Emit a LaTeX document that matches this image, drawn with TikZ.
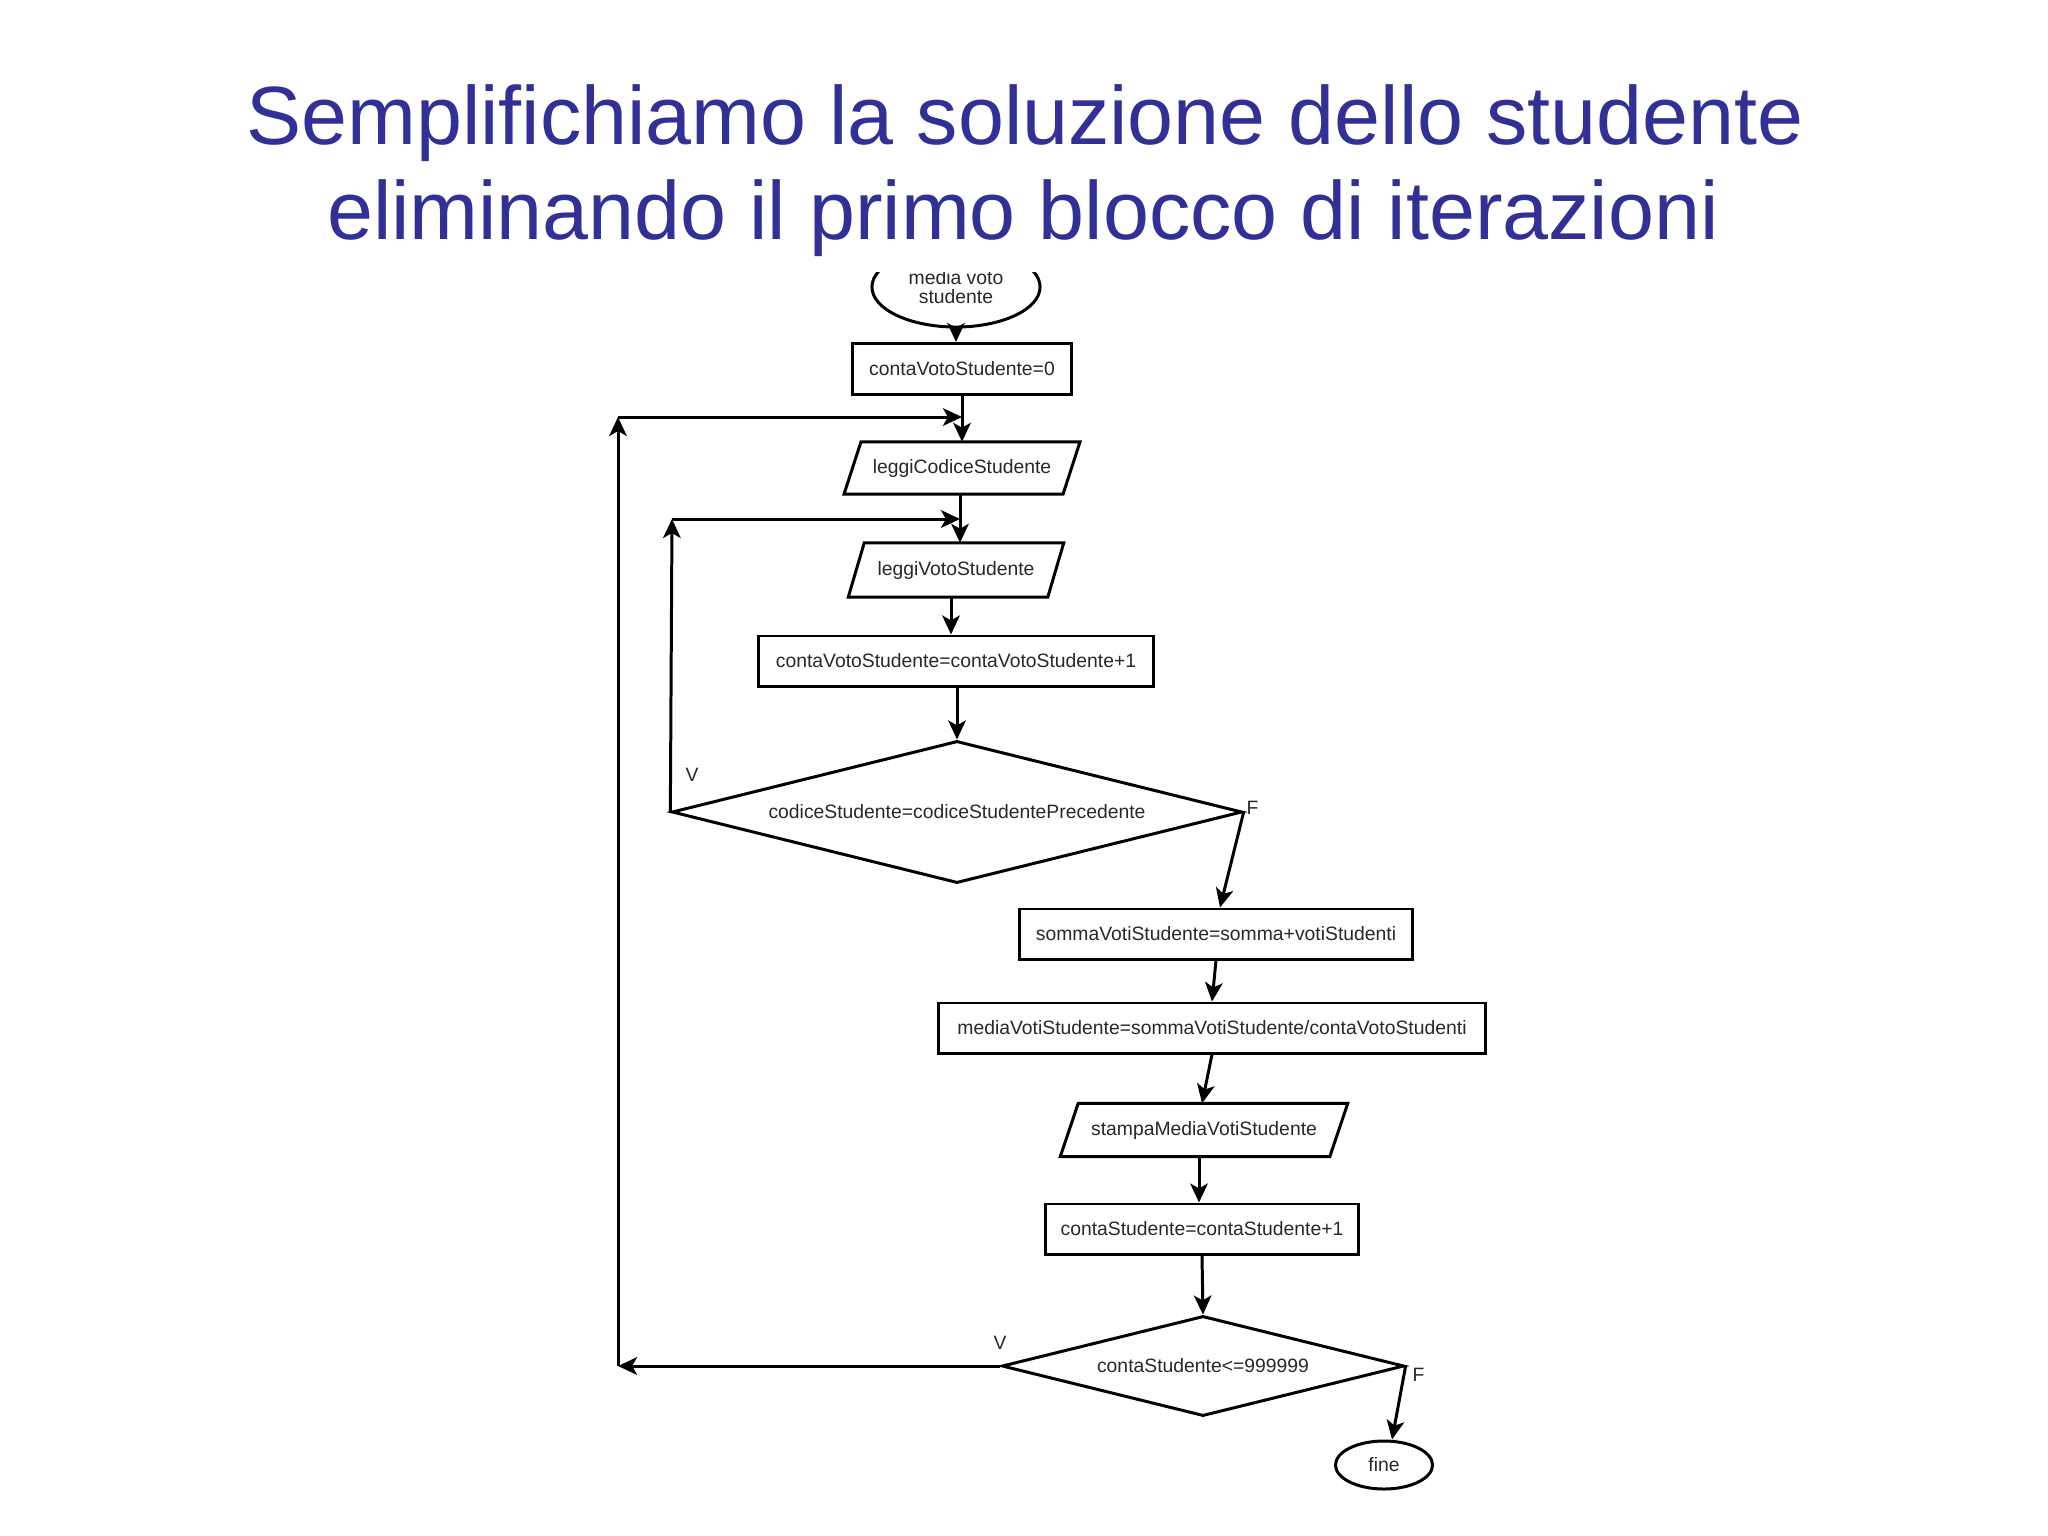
\documentclass[tikz,border=0pt]{standalone}
\usepackage{fontspec}
\setmainfont{Liberation Sans}
\newfontfamily\titlefont{Liberation Sans}
\newfontfamily\diagfont{Liberation Sans}
\usetikzlibrary{shapes.geometric,arrows.meta,calc}
\definecolor{titleblue}{RGB}{48,48,150}
\definecolor{inkgray}{RGB}{40,40,40}
\begin{document}
\begin{tikzpicture}[x=0.01cm,y=-0.01cm,
  every node/.style={font=\diagfont\fontsize{5.5}{6}\selectfont, text=inkgray},
  conn/.style={line width=0.85pt, -{Stealth[length=5.4pt,width=5pt,inset=1.4pt]}},
  procbox/.style={draw, line width=0.85pt, rectangle, inner sep=0pt, minimum height=0.5cm},
  iobox/.style={rectangle, inner sep=0pt},
  decision/.style={draw, line width=0.85pt, diamond, aspect=4, inner sep=0pt},
  terminal/.style={draw, line width=0.85pt, ellipse, inner sep=0pt},
  lbl/.style={font=\diagfont\fontsize{5.5}{6}\selectfont, inner sep=0pt}
]
\useasboundingbox[fill=white] (0,0) rectangle (2048,1536);

% title
\node[font=\titlefont\fontsize{23.5}{28}\selectfont, text=titleblue, anchor=base] (t1) at (1025,144) {Semplifichiamo la soluzione dello studente};
\node[font=\titlefont\fontsize{23.5}{28}\selectfont, text=titleblue, anchor=base] (t2) at (1023,239) {eliminando il primo blocco di iterazioni};

% start (clipped at top)
\begin{scope}
\clip (0,272) rectangle (2048,1536);
\node[terminal, minimum width=1.68cm, minimum height=0.80cm, align=center,
      font=\diagfont\fontsize{5.5}{5.6}\selectfont] (start) at (956,287) {media voto\\studente};
\end{scope}

\node[procbox, minimum width=2.18cm, minimum height=0.51cm] (b1) at (962,369) {contaVotoStudente=0};
\node[iobox, minimum width=2.175cm, minimum height=0.51cm] (lc) at (962,468) {leggiCodiceStudente};
\draw[line width=0.85pt] ($(lc.north west)+(8.5,0)$) -- ($(lc.north east)+(8.5,0)$) -- ($(lc.south east)+(-8.5,0)$) -- ($(lc.south west)+(-8.5,0)$) -- cycle;
\node[iobox, minimum width=1.98cm, minimum height=0.53cm] (lv) at (956,570) {leggiVotoStudente};
\draw[line width=0.85pt] ($(lv.north west)+(8,0)$) -- ($(lv.north east)+(8,0)$) -- ($(lv.south east)+(-8,0)$) -- ($(lv.south west)+(-8,0)$) -- cycle;
\node[procbox, minimum width=3.94cm] (c1) at (956,661) {contaVotoStudente=contaVotoStudente+1};
\node[decision, minimum width=5.70cm, minimum height=1.42cm] (d1) at (957,812) {codiceStudente=codiceStudentePrecedente};
\node[procbox, minimum width=3.92cm] (s1) at (1216,934) {sommaVotiStudente=somma+votiStudenti};
\node[procbox, minimum width=5.46cm] (m1) at (1212,1028) {mediaVotiStudente=sommaVotiStudente/contaVotoStudenti};
\node[iobox, minimum width=2.68cm, minimum height=0.52cm] (st) at (1204,1130) {stampaMediaVotiStudente};
\draw[line width=0.85pt] ($(st.north west)+(9,0)$) -- ($(st.north east)+(9,0)$) -- ($(st.south east)+(-9,0)$) -- ($(st.south west)+(-9,0)$) -- cycle;
\node[procbox, minimum width=3.13cm] (cs) at (1202,1229) {contaStudente=contaStudente+1};
\node[decision, minimum width=4.02cm, minimum height=1.00cm] (d2) at (1203,1366) {contaStudente<=999999};
\node[terminal, minimum width=0.97cm, minimum height=0.48cm] (fine) at (1384,1465) {fine};

% labels
\node[lbl] (v1) at (692,775) {V};
\node[lbl, anchor=west] (f1) at (1246,808) {F};
\node[lbl] (v2) at (1000,1343) {V};
\node[lbl, anchor=west] (f2) at (1412,1375) {F};

% junction coordinates
\coordinate (j1) at (962,417);
\coordinate (ot) at (618,417);
\coordinate (ob) at (618,1366);
\coordinate (j2) at (960,519);
\coordinate (it) at (672,519);

% main flow
\draw[conn] (start.south) -- (start.south |- b1.north);
\draw[conn] (b1.south) -- (lc.north);
\draw[conn] (lc.south -| j2) -- (lv.north -| j2);
\draw[conn] (lv.south -| 951,0) -- (c1.north -| 951,0);
\draw[conn] (c1.south -| d1.north) -- (d1.north);
\draw[conn] (d1.east) -- ($(s1.north)+(4,0)$);
\draw[conn] (s1.south) -- (m1.north);
\draw[conn] (m1.south) -- ($(st.north)+(-2,0)$);
\draw[conn] (st.south -| 1199,0) -- (cs.north -| 1199,0);
\draw[conn] (cs.south) -- (d2.north);
\draw[conn] (d2.east) -- ($(fine.north)+(8,0)$);

% inner loop (V of first decision)
\draw[conn] (d1.west) -- (it);
\draw[conn] (it) -- (j2);

% outer loop (V of second decision)
\draw[conn] (d2.west) -- (ob);
\draw[conn] (ob) -- (ot);
\draw[conn] (ot) -- (j1);
\end{tikzpicture}
\end{document}
